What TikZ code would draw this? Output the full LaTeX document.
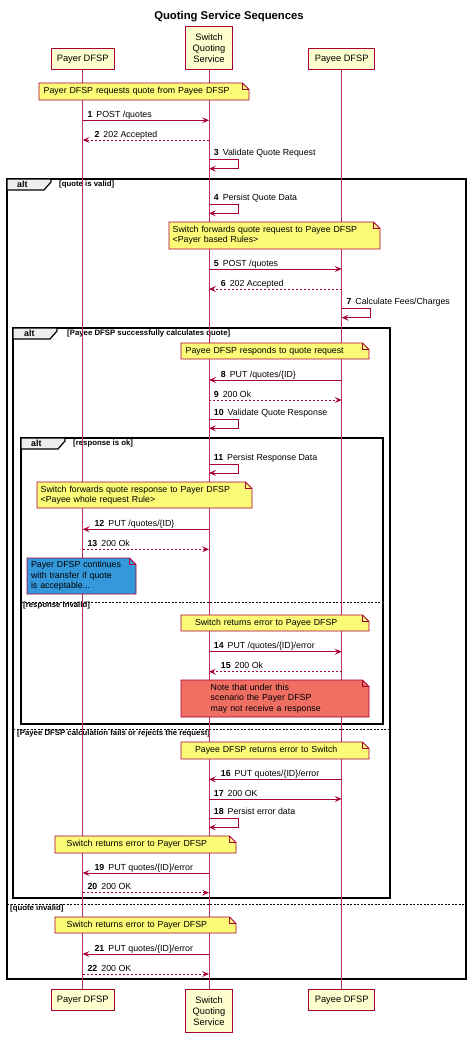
\documentclass[tikz,border=0pt]{standalone}
\usepackage{fontspec}
\setmainfont{Liberation Sans}
\usetikzlibrary{arrows.meta, backgrounds}

\definecolor{umlred}{HTML}{A80036}
\definecolor{partfill}{HTML}{FEFECE}
\definecolor{notefill}{HTML}{FBFB77}
\definecolor{bluenote}{HTML}{3498DB}
\definecolor{rednote}{HTML}{EF6F63}
\definecolor{tabfill}{HTML}{EEEEEE}

% folded-corner outline behind a note node
\newcommand{\notefold}[2]{%
  \begin{scope}[on background layer]
    \filldraw[draw=umlred, fill=#2, line width=0.8pt] (#1.north west) -- ([xshift=-6.5pt]#1.north east)
      -- ([yshift=-6.5pt]#1.north east) -- (#1.south east) -- (#1.south west) -- cycle;
    \draw[umlred, line width=0.8pt] ([xshift=-6.5pt]#1.north east) |- ([yshift=-6.5pt]#1.north east);
  \end{scope}}

\begin{document}
\begin{tikzpicture}[
        x=1pt, y=-1pt,
        part/.style={
            rectangle, draw=umlred, fill=partfill, line width=1pt, align=center,
            inner sep=2pt, font=\fontsize{9.3}{11.2}\selectfont
        },
        note/.style={
            rectangle, anchor=north west, inner ysep=0pt, outer sep=0pt, align=left,
            font=\fontsize{8.8}{10.3}\selectfont
        },
        lifeline/.style={umlred!80, line width=0.7pt},
        msg/.style={umlred, line width=0.8pt, -{Stealth[length=7pt, width=6pt, inset=3pt]}},
        reply/.style={msg, dash pattern=on 2pt off 2pt},
        rl/.style={pos=0, anchor=base west, xshift=4.5pt, yshift=3pt, inner sep=0pt, text=black,
            font=\fontsize{8.8}{10}\selectfont},
        ll/.style={pos=1, anchor=base west, xshift=11.5pt, yshift=3pt, inner sep=0pt, text=black,
            font=\fontsize{8.8}{10}\selectfont},
        sl/.style={anchor=base west, xshift=4.5pt, yshift=4pt, inner sep=0pt, text=black,
            font=\fontsize{8.8}{10}\selectfont},
        frame/.style={black, line width=1.2pt},
        tab/.style={draw=black, fill=tabfill, line width=1.2pt},
        altlbl/.style={anchor=west, inner sep=0pt, font=\bfseries\fontsize{8.8}{10}\selectfont},
        guard/.style={anchor=west, inner sep=0pt, font=\bfseries\fontsize{7.8}{9}\selectfont},
        divider/.style={black, line width=1pt, dash pattern=on 2pt off 1.5pt}
    ]
        \useasboundingbox (0,0) rectangle (474,1041);

        % Title
        \node[anchor=base, font=\bfseries\fontsize{11.3}{13}\selectfont] (title) at (229,19.3) {Quoting Service Sequences};

        % Participants
        \node[part, minimum width=63pt, minimum height=21pt, anchor=south] (payer) at (82.7,70) {Payer DFSP};
        \node[part, minimum width=47pt, minimum height=43pt, anchor=south] (switch) at (209,70) {Switch\\Quoting\\Service};
        \node[part, minimum width=66pt, minimum height=21pt, anchor=south] (payee) at (341.7,70) {Payee DFSP};

        \node[part, minimum width=63pt, minimum height=21pt, anchor=north] (payerB) at (82.7,989) {Payer DFSP};
        \node[part, minimum width=47pt, minimum height=43pt, anchor=north] (switchB) at (209,989) {Switch\\Quoting\\Service};
        \node[part, minimum width=66pt, minimum height=21pt, anchor=north] (payeeB) at (341.7,989) {Payee DFSP};

        % Frames and lifelines
        \begin{scope}[on background layer]
            % alt: quote is valid
            \draw[frame] (7,179) rectangle (466,979);
            \filldraw[tab] (7,179) -- (51,179) -- (51,182) -- (44,190) -- (7,190) -- cycle;
            \node[altlbl] (alt1) at (17,184.3) {alt};
            \node[guard] (g1) at (59,184.3) {[quote is valid]};
            \draw[divider] (7,904) -- (466,904);
            \node[guard] (g1b) at (10,908) {[quote invalid]};

            % alt: payee calculates quote
            \draw[frame] (13,328) rectangle (390,898);
            \filldraw[tab] (13,328) -- (57,328) -- (57,331) -- (50,339) -- (13,339) -- cycle;
            \node[altlbl] (alt2) at (24,333.3) {alt};
            \node[guard] (g2) at (67,333.3) {[Payee DFSP successfully calculates quote]};
            \draw[divider] (13,729) -- (390,729);
            \node[guard] (g2b) at (17,733.3) {[Payee DFSP calculation fails or rejects the request]};

            % alt: response is ok
            \draw[frame] (21,438) rectangle (383,724);
            \filldraw[tab] (21,438) -- (65,438) -- (65,441) -- (58,449) -- (21,449) -- cycle;
            \node[altlbl] (alt3) at (31,443.5) {alt};
            \node[guard] (g3) at (73,443.5) {[response is ok]};
            \draw[divider] (21,602) -- (383,602);
            \node[guard] (g3b) at (23,605.8) {[response invalid]};

            \draw[lifeline] (payer.south) -- (payerB.north);
            \draw[lifeline] (switch.south) -- (switchB.north);
            \draw[lifeline] (payee.south) -- (payeeB.north);
        \end{scope}

        % Notes
        \node[note, inner xsep=4.7pt, text width=200.6pt, minimum height=17pt] (ask) at (39,83) {Payer DFSP requests quote from Payee DFSP};
        \notefold{ask}{notefill}
        \node[note, inner xsep=3.7pt, text width=203.6pt, minimum height=27pt] (fwd) at (169,222) {Switch forwards quote request to Payee DFSP\\<Payer based Rules>};
        \notefold{fwd}{notefill}
        \node[note, inner xsep=4.7pt, text width=178.6pt, minimum height=16pt] (resp) at (181,343) {Payee DFSP responds to quote request};
        \notefold{resp}{notefill}
        \node[note, inner xsep=3.7pt, text width=207.6pt, minimum height=26pt] (fwdresp) at (37,482) {Switch forwards quote response to Payer DFSP\\<Payee whole request Rule>};
        \notefold{fwdresp}{notefill}
        \node[note, inner xsep=4pt, text width=101pt, minimum height=36pt] (cont) at (27,558) {Payer DFSP continues\\with transfer if quote\\is acceptable...};
        \notefold{cont}{bluenote}
        \node[note, inner xsep=14pt, text width=160pt, minimum height=16pt] (errpayee) at (181,615) {Switch returns error to Payee DFSP};
        \notefold{errpayee}{notefill}
        \node[note, inner xsep=29.7pt, text width=128.6pt, minimum height=37pt] (warn) at (181,680) {Note that under this\\scenario the Payer DFSP\\may not receive a response};
        \notefold{warn}{rednote}
        \node[note, inner xsep=14pt, text width=160pt, minimum height=17pt] (errswitch) at (181,742) {Payee DFSP returns error to Switch};
        \notefold{errswitch}{notefill}
        \node[note, inner xsep=11.7pt, text width=157.6pt, minimum height=17pt] (errpayer) at (55,836) {Switch returns error to Payer DFSP};
        \notefold{errpayer}{notefill}
        \node[note, inner xsep=11.7pt, text width=157.6pt, minimum height=16pt] (errinv) at (55,917) {Switch returns error to Payer DFSP};
        \notefold{errinv}{notefill}

        % Messages
        \draw[msg] (payer |- 0,120.3) -- node[rl] (t1) {\textbf{1}\hspace{4pt}POST /quotes} (switch |- 0,120.3);
        \draw[reply] (switch |- 0,140) -- node[ll] (t2) {\textbf{2}\hspace{4pt}202 Accepted} (payer |- 0,140);
        \draw[msg] (switch |- 0,159.7) node[sl] (t3) {\textbf{3}\hspace{4pt}Validate Quote Request} -- ++(29,0) -- ++(0,9) -- (switch |- 0,168.7);
        \draw[msg] (switch |- 0,204.7) node[sl] (t4) {\textbf{4}\hspace{4pt}Persist Quote Data} -- ++(29,0) -- ++(0,8.6) -- (switch |- 0,213.3);
        \draw[msg] (switch |- 0,269) -- node[rl] (t5) {\textbf{5}\hspace{4pt}POST /quotes} (payee |- 0,269);
        \draw[reply] (payee |- 0,289) -- node[ll] (t6) {\textbf{6}\hspace{4pt}202 Accepted} (switch |- 0,289);
        \draw[msg] (payee |- 0,308.7) node[sl] (t7) {\textbf{7}\hspace{4pt}Calculate Fees/Charges} -- ++(29,0) -- ++(0,9) -- (payee |- 0,317.7);

        \draw[msg] (payee |- 0,380) -- node[ll] (t8) {\textbf{8}\hspace{4pt}PUT /quotes/\{ID\}} (switch |- 0,380);
        \draw[reply] (switch |- 0,400) -- node[rl] (t9) {\textbf{9}\hspace{4pt}200 Ok} (payee |- 0,400);
        \draw[msg] (switch |- 0,419.3) node[sl] (t10) {\textbf{10}\hspace{4pt}Validate Quote Response} -- ++(29,0) -- ++(0,9) -- (switch |- 0,428.3);
        \draw[msg] (switch |- 0,464.3) node[sl] (t11) {\textbf{11}\hspace{4pt}Persist Response Data} -- ++(29,0) -- ++(0,8.7) -- (switch |- 0,473);
        \draw[msg] (switch |- 0,529.3) -- node[ll] (t12) {\textbf{12}\hspace{4pt}PUT /quotes/\{ID\}} (payer |- 0,529.3);
        \draw[reply] (payer |- 0,549.3) -- node[rl] (t13) {\textbf{13}\hspace{4pt}200 Ok} (switch |- 0,549.3);

        \draw[msg] (switch |- 0,651.7) -- node[rl] (t14) {\textbf{14}\hspace{4pt}PUT /quotes/\{ID\}/error} (payee |- 0,651.7);
        \draw[reply] (payee |- 0,671.7) -- node[ll] (t15) {\textbf{15}\hspace{4pt}200 Ok} (switch |- 0,671.7);

        \draw[msg] (payee |- 0,779.3) -- node[ll] (t16) {\textbf{16}\hspace{4pt}PUT quotes/\{ID\}/error} (switch |- 0,779.3);
        \draw[msg] (switch |- 0,799) -- node[rl] (t17) {\textbf{17}\hspace{4pt}200 OK} (payee |- 0,799);
        \draw[msg] (switch |- 0,818.3) node[sl] (t18) {\textbf{18}\hspace{4pt}Persist error data} -- ++(29,0) -- ++(0,9) -- (switch |- 0,827.3);
        \draw[msg] (switch |- 0,873) -- node[ll] (t19) {\textbf{19}\hspace{4pt}PUT quotes/\{ID\}/error} (payer |- 0,873);
        \draw[reply] (payer |- 0,892.7) -- node[rl] (t20) {\textbf{20}\hspace{4pt}200 OK} (switch |- 0,892.7);

        \draw[msg] (switch |- 0,954) -- node[ll] (t21) {\textbf{21}\hspace{4pt}PUT quotes/\{ID\}/error} (payer |- 0,954);
        \draw[reply] (payer |- 0,974) -- node[rl] (t22) {\textbf{22}\hspace{4pt}200 OK} (switch |- 0,974);

    \end{tikzpicture}
\end{document}
